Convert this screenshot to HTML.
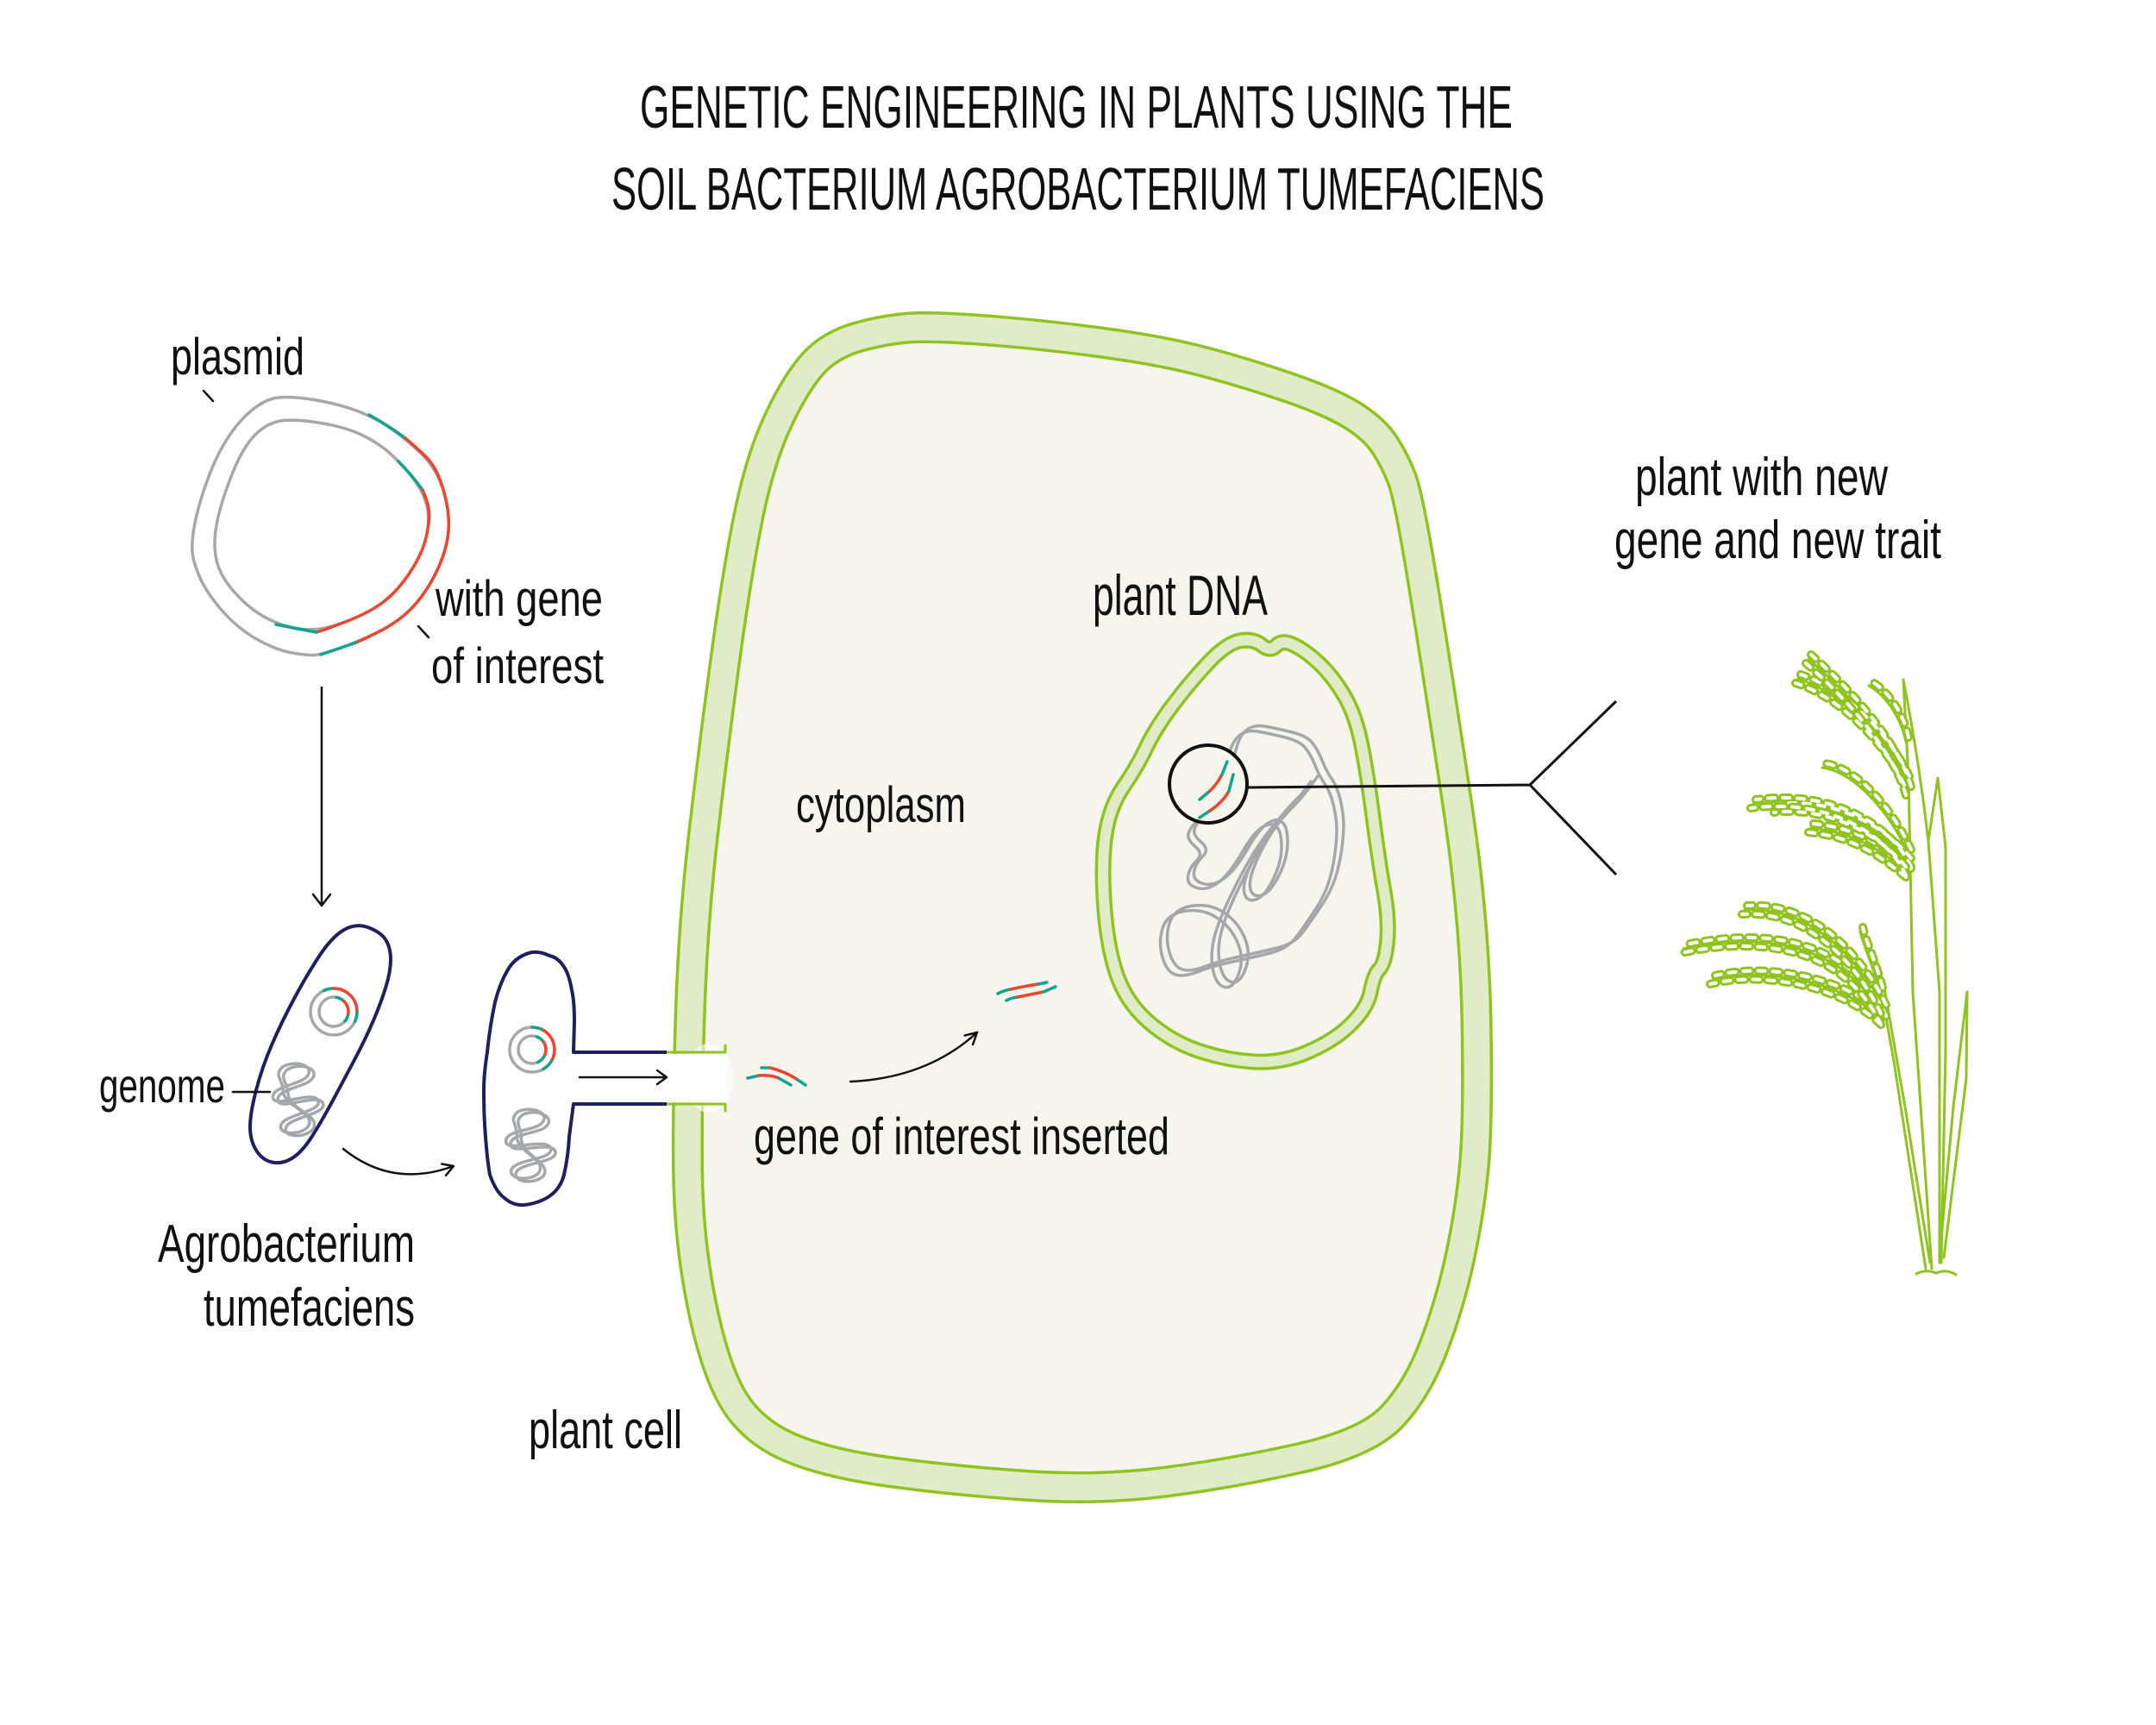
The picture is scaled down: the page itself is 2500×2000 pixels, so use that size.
<!DOCTYPE html>
<html><head><meta charset="utf-8"><style>
html,body{margin:0;padding:0;background:#fff;}
svg{display:block;}
text{font-family:"Liberation Sans",sans-serif;fill:#111;}
.rach{fill:none;stroke:#8fc31f;stroke-width:3;stroke-linecap:round}
.g1{fill:none;stroke:#8fc31f;stroke-width:10;stroke-dasharray:8 9;stroke-linecap:round}
.g2{fill:none;stroke:#fff;stroke-width:4;stroke-dasharray:8 9;stroke-linecap:round}
.gr{fill:none;stroke:#a6a7ab;stroke-width:3.5;stroke-linejoin:round;stroke-linecap:round}
.tl{fill:none;stroke:#13a38a;stroke-width:3.5;stroke-linecap:round}
.rd{fill:none;stroke:#ee4530;stroke-width:3.5;stroke-linecap:round}
.nv{fill:none;stroke:#1f1f5f;stroke-width:4;stroke-linejoin:round}
.bk{fill:none;stroke:#111;stroke-width:2.5;stroke-linecap:round;stroke-linejoin:round}
.pl{fill:none;stroke:#8fc31f;stroke-width:3;stroke-linejoin:round;stroke-linecap:round}
</style></head><body>
<svg width="2500" height="2000" viewBox="0 0 2500 2000" xmlns="http://www.w3.org/2000/svg">
<defs>
<path id="cell" d="M 997.5,390 Q 1035,380 1066.5,379.5 Q 1098,379 1158,384 Q 1218,389 1284,398 Q 1350,407 1398.5,420 Q 1447,433 1495,449.5 Q 1543,466 1568,481.5 Q 1593,497 1605,515 Q 1617,533 1625.5,555 Q 1634,577 1652,689 Q 1670,801 1690,934 Q 1710,1067 1712,1183.5 Q 1714,1300 1709.5,1350 Q 1705,1400 1693.5,1455 Q 1682,1510 1662.5,1561 Q 1643,1612 1614,1642.5 Q 1585,1673 1507.5,1690.5 Q 1430,1708 1352.5,1718 Q 1275,1728 1192.5,1722.5 Q 1110,1717 1035,1707 Q 960,1697 916.5,1678.5 Q 873,1660 851,1624 Q 829,1588 813.5,1511.5 Q 798,1435 797.5,1351 Q 797,1267 800.5,1167 Q 804,1067 815.5,967.5 Q 827,868 840.5,768 Q 854,668 867,603 Q 880,538 899,495 Q 918,452 939,426 Q 960,400 997.5,390 Z"/>
<path id="nuc" d="M 1437.5,743 Q 1453,740 1463,748 Q 1473,756 1480,748.5 Q 1487,741 1501.5,748.5 Q 1516,756 1531,770.5 Q 1546,785 1559,807 Q 1572,829 1579,864.5 Q 1586,900 1592.5,950 Q 1599,1000 1605,1033.5 Q 1611,1067 1608.5,1092 Q 1606,1117 1599.5,1123.5 Q 1593,1130 1589.5,1149 Q 1586,1168 1567,1187 Q 1548,1206 1517,1219.5 Q 1486,1233 1453.5,1231 Q 1421,1229 1389,1218 Q 1357,1207 1331.5,1184.5 Q 1306,1162 1295,1130 Q 1284,1098 1280.5,1049 Q 1277,1000 1282,967.5 Q 1287,935 1302.5,912.5 Q 1318,890 1329,867 Q 1340,844 1359.5,818 Q 1379,792 1400.5,769 Q 1422,746 1437.5,743 Z"/>
<path id="scr" d="M -8,-38 C 10,-44 30,-32 18,-22 C 8,-14 -26,-18 -25,-4 C -24,8 24,-6 26,8 C 28,22 -20,16 -22,30 C -24,42 10,44 12,30 C 14,18 -14,6 -12,-10 C -10,-24 -20,-30 -8,-38 Z"/>
<path id="dna1" d="M 1423,883 L 1426.5,870.5 Q 1430,858 1438,852 Q 1446,846 1458,848 Q 1470,850 1488.5,854.5 Q 1507,859 1513.5,867 Q 1520,875 1525,887.5 Q 1530,900 1536.5,909.5 Q 1543,919 1546.5,934.5 Q 1550,950 1550,962.5 Q 1550,975 1547.5,992.5 Q 1545,1010 1540,1025 Q 1535,1040 1524,1056.5 Q 1513,1073 1503,1086.5 Q 1493,1100 1473,1105 Q 1453,1110 1429.5,1115 Q 1406,1120 1389.5,1126.5 Q 1373,1133 1363,1130 Q 1353,1127 1348,1110 Q 1343,1093 1348,1076.5 Q 1353,1060 1373,1056.5 Q 1393,1053 1409.5,1063 Q 1426,1073 1434.5,1091.5 Q 1443,1110 1436.5,1128.5 Q 1430,1147 1420,1144.5 Q 1410,1142 1406.5,1124.5 Q 1403,1107 1408,1087 Q 1413,1067 1429.5,1033.5 Q 1446,1000 1459.5,980 Q 1473,960 1486.5,946.5 Q 1500,933 1510,919.5 L 1520,906"/>
<path id="dna2" d="M 1392,948 L 1386,954 Q 1380,960 1378,966.5 Q 1376,973 1386,981.5 Q 1396,990 1387.5,998 Q 1379,1006 1377.5,1016 Q 1376,1026 1388,1029.5 Q 1400,1033 1413,1023 Q 1426,1013 1439.5,989.5 Q 1453,966 1463,959.5 Q 1473,953 1479.5,958 Q 1486,963 1486,981.5 Q 1486,1000 1476,1020 Q 1466,1040 1456,1043 Q 1446,1046 1443,1036 Q 1440,1026 1450,1003 Q 1460,980 1475,960 Q 1490,940 1500,930 L 1510,920"/>
<path id="r1" d="M 2213,917 C 2200,870 2150,810 2097,764"/>
<path id="r2" d="M 2211,905 C 2190,860 2140,805 2085,787"/>
<path id="r3" d="M 2210,860 C 2204,830 2185,805 2167,795"/>
<path id="r4" d="M 2213,1010 C 2190,960 2120,920 2033,932"/>
<path id="r5" d="M 2213,990 C 2190,940 2150,895 2113,890"/>
<path id="r6" d="M 2213,1000 C 2180,960 2120,930 2060,937"/>
<path id="r7" d="M 2213,1012 C 2180,985 2150,965 2100,960"/>
<path id="r8" d="M 2184,1183 C 2150,1110 2070,1075 1952,1100"/>
<path id="r9" d="M 2184,1170 C 2150,1100 2090,1050 2023,1055"/>
<path id="r10" d="M 2184,1183 C 2140,1140 2050,1120 1986,1136"/>
<path id="r11" d="M 2180,1150 C 2172,1120 2162,1100 2157,1080"/>
</defs>

<!-- Title -->
<text x="742" y="148" font-size="70" textLength="1012" lengthAdjust="spacingAndGlyphs">GENETIC ENGINEERING IN PLANTS USING THE</text>
<text x="709" y="243" font-size="70" textLength="1082" lengthAdjust="spacingAndGlyphs">SOIL BACTERIUM AGROBACTERIUM TUMEFACIENS</text>

<!-- Plant cell -->
<use href="#cell" fill="#f5f5ed" stroke="#8fc31f" stroke-width="37"/>
<use href="#cell" fill="none" stroke="#e0ebc7" stroke-width="30"/>

<!-- channel -->
<rect x="760" y="1222" width="82" height="56" fill="#fff"/>
<ellipse cx="822" cy="1250" rx="28" ry="40" fill="#fff" opacity="0.6"/>
<path class="pl" d="M 773,1220 L 841,1220 L 841,1212"/>
<path class="pl" d="M 773,1280 L 841,1280 L 841,1288"/>

<!-- Nucleus -->
<use href="#nuc" fill="#f5f5ed" stroke="#8fc31f" stroke-width="19"/>
<use href="#nuc" fill="none" stroke="#e0ebc7" stroke-width="12"/>

<!-- DNA tangle -->
<use href="#dna1" class="gr"/>
<use href="#dna1" class="gr" transform="translate(8,-6)"/>
<use href="#dna2" class="gr"/>
<use href="#dna2" class="gr" transform="translate(7,-5)"/>

<!-- magnifier circle -->
<circle cx="1401" cy="909" r="45" fill="#f5f5ed" stroke="#111" stroke-width="4"/>
<path class="tl" d="M 1391,927 L 1403,917"/>
<path class="rd" d="M 1403,917 Q 1412,908 1417,898"/>
<path class="tl" d="M 1417,898 L 1423,883"/>
<path class="tl" d="M 1391,948 L 1403,940"/>
<path class="rd" d="M 1403,940 Q 1418,930 1425,917"/>
<path class="tl" d="M 1425,917 L 1430,898"/>
<path d="M 1446,913 L 1774,910 L 1874,813 M 1774,910 L 1874,1014" fill="none" stroke="#111" stroke-width="3"/>

<!-- gene fragments in cytoplasm -->
<path class="tl" d="M 883,1238 L 893,1238"/>
<path class="rd" d="M 893,1238 Q 912,1243 925,1252"/>
<path class="tl" d="M 925,1252 L 934,1258"/>
<path class="tl" d="M 867,1250 L 880,1247"/>
<path class="rd" d="M 880,1247 Q 893,1246 903,1250"/>
<path class="tl" d="M 903,1250 L 917,1258"/>

<path class="tl" d="M 1157,1152 Q 1165,1148 1172,1147"/>
<path class="rd" d="M 1172,1147 Q 1190,1143 1204,1141"/>
<path class="tl" d="M 1204,1141 L 1214,1139"/>
<path class="tl" d="M 1167,1160 Q 1172,1157 1180,1156"/>
<path class="rd" d="M 1180,1156 L 1210,1150"/>
<path class="tl" d="M 1210,1150 L 1224,1144"/>

<!-- arrows -->
<path class="bk" d="M 986,1254 Q 1075,1250 1133,1197"/>
<path class="bk" d="M 1118.7,1200.6 L 1133,1197 L 1128.1,1211"/>
<path class="bk" d="M 672,1249 L 772,1249 M 762,1241 L 773,1249 L 762,1257"/>
<path class="bk" d="M 373,797 L 373,1050 M 363,1037 L 373,1050 L 383,1037"/>
<path class="bk" d="M 398,1332 Q 455,1378 526,1352 M 512.3,1349.5 L 526,1352 L 517.1,1362.7"/>

<!-- Plasmid -->
<path class="gr" d="M 226,606.5 Q 230,586 240,558 Q 250,530 263,509.5 Q 276,489 291,476.5 Q 306,464 319,461.5 Q 332,459 357.5,462.5 Q 383,466 406,473.5 Q 429,481 449,494 Q 469,507 488.5,526 Q 508,545 515.5,573 Q 523,601 519,624 Q 515,647 502.5,670 Q 490,693 474.5,708 Q 459,723 436,734 Q 413,745 392.5,752 Q 372,759 364.5,759.5 Q 357,760 339,757 Q 321,754 298.5,741.5 Q 276,729 258,708.5 Q 240,688 232,670 Q 224,652 223,639.5 Q 222,627 226,606.5 Z"/>
<path class="gr" d="M 251,609 Q 255,586 268,552.5 Q 281,519 296,504 Q 311,489 329,487.5 Q 347,486 375,491 Q 403,496 421,505 Q 439,514 451.5,525 Q 464,536 477,552 Q 490,568 494.5,584.5 Q 499,601 494.5,621.5 Q 490,642 474.5,665 Q 459,688 441,700.5 Q 423,713 395,723 Q 367,733 344,728.5 Q 321,724 303.5,713.5 Q 286,703 270.5,685 Q 255,667 251,649.5 Q 247,632 251,609 Z"/>
<path class="tl" d="M 428,481 Q 450,493 470,508"/>
<path class="rd" d="M 470,508 Q 490,525 497,533 Q 508,545 515.5,573 Q 523,601 519,624 Q 515,647 502.5,670 Q 490,693 474.5,708 Q 459,723 436,734 Q 425,740 413,745"/>
<path class="tl" d="M 413,745 Q 392.5,752 372,759"/>
<path class="tl" d="M 462,535 Q 477,550 490,568"/>
<path class="rd" d="M 490,568 Q 496,582 497,590 Q 499,601 494.5,621.5 Q 490,642 474.5,665 Q 459,688 441,700.5 Q 423,713 395,723 Q 380,729 367,733"/>
<path class="tl" d="M 367,733 Q 344,729 320,724"/>
<path class="bk" d="M 236,453 L 247,465"/>
<path class="bk" d="M 485,726 L 497,739"/>

<!-- Bacterium 1 -->
<path class="nv" d="M 427.5,1075.5 Q 442,1081 447.5,1090 Q 453,1099 453,1112.5 Q 453,1126 447.5,1144 Q 442,1162 433.5,1182 Q 425,1202 413.5,1224 Q 402,1246 387.5,1273 Q 373,1300 361.5,1318 Q 350,1336 338.5,1343 Q 327,1350 315.5,1347.5 Q 304,1345 297,1333.5 Q 290,1322 290,1306.5 Q 290,1291 297,1264 Q 304,1237 315.5,1210.5 Q 327,1184 341.5,1157 Q 356,1130 370.5,1108 Q 385,1086 399,1078 Q 413,1070 427.5,1075.5 Z"/>
<circle cx="387" cy="1173" r="27" class="gr"/>
<circle cx="387" cy="1173" r="17" class="gr"/>
<path class="tl" d="M 375.6,1148.5 A 27 27 0 0 1 387,1146"/>
<path class="rd" d="M 387,1146 A 27 27 0 0 1 414,1173"/>
<path class="tl" d="M 414,1173 A 27 27 0 0 1 411.5,1184.4"/>
<path class="tl" d="M 390,1156.3 A 17 17 0 0 1 399,1161"/>
<path class="rd" d="M 399,1161 A 17 17 0 0 1 403.4,1177.4"/>
<path class="tl" d="M 403.4,1177.4 A 17 17 0 0 1 400,1183.9"/>
<g transform="translate(342,1273) rotate(-10)"><use href="#scr" class="gr"/><use href="#scr" class="gr" transform="translate(5,4)"/></g>
<path class="bk" d="M 270,1266 L 313,1266"/>

<!-- Bacterium 2 -->
<path class="nv" d="M 773,1220 L 665,1220 L 666,1185 Q 666,1160 663,1148 Q 660,1130 654,1121 Q 647,1110 637,1108 Q 627,1103 617,1104 Q 600,1108 591,1121 Q 580,1138 574,1162 Q 568,1190 565,1220 Q 561,1245 561,1264 Q 561,1295 563,1318 Q 565,1345 568,1362 Q 575,1382 585,1389 Q 595,1398 608,1397 Q 625,1395 637,1387 Q 650,1378 654,1362 Q 659,1340 660,1318 Q 663,1295 665,1280 L 773,1280"/>
<circle cx="617" cy="1217" r="26" class="gr"/>
<circle cx="617" cy="1217" r="16" class="gr"/>
<path class="tl" d="M 617,1191 A 26 26 0 0 1 630,1194.5"/>
<path class="rd" d="M 630,1194.5 A 26 26 0 0 1 639.5,1230"/>
<path class="tl" d="M 639.5,1230 A 26 26 0 0 1 630,1239.5"/>
<path class="tl" d="M 622.5,1202 A 16 16 0 0 1 630.1,1207.8"/>
<path class="rd" d="M 630.1,1207.8 A 16 16 0 0 1 630.9,1225"/>
<path class="tl" d="M 630.9,1225 A 16 16 0 0 1 623.8,1231.5"/>
<g transform="translate(612,1326) rotate(-5)"><use href="#scr" class="gr"/><use href="#scr" class="gr" transform="translate(5,4)"/></g>

<!-- Rice plant -->
<g>
<path class="pl" d="M 2207,788 L 2213,900 L 2218,1150 L 2240,1471"/>
<path class="pl" d="M 2207,788 Q 2225,880 2236,975 L 2249,1150 L 2249,1464"/>
<path class="pl" d="M 2236,975 L 2247,902 L 2256,982 L 2256,1217 L 2251,1464"/>
<path class="pl" d="M 2249,1458 L 2265,1283 L 2281,1150 L 2280,1250 L 2254,1458"/>
<path class="pl" d="M 2173,1103 L 2196,1230 L 2233,1471"/>
<path class="pl" d="M 2173,1103 L 2184,1140 L 2209,1283 L 2238,1464"/>
<path class="pl" d="M 2222,1477 Q 2232,1471 2245,1476 Q 2258,1471 2268,1478"/>

<use href="#r1" class="rach"/><use href="#r2" class="rach"/><use href="#r3" class="rach"/>
<use href="#r4" class="rach"/><use href="#r5" class="rach"/><use href="#r6" class="rach"/><use href="#r7" class="rach"/>
<use href="#r8" class="rach"/><use href="#r9" class="rach"/><use href="#r10" class="rach"/><use href="#r11" class="rach"/>

<g transform="translate(3,-5)">
<use href="#r1" class="g1"/><use href="#r2" class="g1"/><use href="#r3" class="g1"/><use href="#r4" class="g1"/><use href="#r5" class="g1"/><use href="#r6" class="g1"/><use href="#r7" class="g1"/><use href="#r8" class="g1"/><use href="#r9" class="g1"/><use href="#r10" class="g1"/><use href="#r11" class="g1"/>
<use href="#r1" class="g2"/><use href="#r2" class="g2"/><use href="#r3" class="g2"/><use href="#r4" class="g2"/><use href="#r5" class="g2"/><use href="#r6" class="g2"/><use href="#r7" class="g2"/><use href="#r8" class="g2"/><use href="#r9" class="g2"/><use href="#r10" class="g2"/><use href="#r11" class="g2"/>
</g>
<g transform="translate(-3,5)">
<use href="#r1" class="g1"/><use href="#r2" class="g1"/><use href="#r4" class="g1"/><use href="#r6" class="g1"/><use href="#r7" class="g1"/><use href="#r8" class="g1"/><use href="#r9" class="g1"/><use href="#r10" class="g1"/>
<use href="#r1" class="g2"/><use href="#r2" class="g2"/><use href="#r4" class="g2"/><use href="#r6" class="g2"/><use href="#r7" class="g2"/><use href="#r8" class="g2"/><use href="#r9" class="g2"/><use href="#r10" class="g2"/>
</g>
</g>

<!-- Labels -->
<text x="198" y="434" font-size="60" textLength="155" lengthAdjust="spacingAndGlyphs">plasmid</text>
<text x="505" y="714" font-size="58" textLength="194" lengthAdjust="spacingAndGlyphs">with gene</text>
<text x="500" y="792" font-size="58" textLength="200" lengthAdjust="spacingAndGlyphs">of interest</text>
<text x="115" y="1278" font-size="56" textLength="146" lengthAdjust="spacingAndGlyphs">genome</text>
<text x="183" y="1463" font-size="62" textLength="298" lengthAdjust="spacingAndGlyphs">Agrobacterium</text>
<text x="236" y="1537" font-size="62" textLength="245" lengthAdjust="spacingAndGlyphs">tumefaciens</text>
<text x="613" y="1679" font-size="62" textLength="178" lengthAdjust="spacingAndGlyphs">plant cell</text>
<text x="923" y="953" font-size="58" textLength="197" lengthAdjust="spacingAndGlyphs">cytoplasm</text>
<text x="874" y="1338" font-size="60" textLength="482" lengthAdjust="spacingAndGlyphs">gene of interest inserted</text>
<text x="1267" y="713" font-size="66" textLength="203" lengthAdjust="spacingAndGlyphs">plant DNA</text>
<text x="1896" y="574" font-size="62" textLength="293" lengthAdjust="spacingAndGlyphs">plant with new</text>
<text x="1872" y="647" font-size="62" textLength="379" lengthAdjust="spacingAndGlyphs">gene and new trait</text>
</svg>
</body></html>
